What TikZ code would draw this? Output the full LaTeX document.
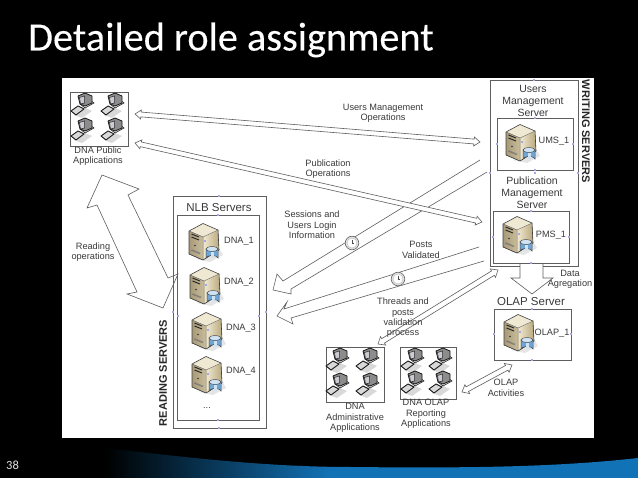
\documentclass[tikz,border=0pt]{standalone}
\usepackage{fontspec}
\setmainfont{Liberation Sans}
\newfontfamily\slidefont{Carlito}
\newfontfamily\titlefont[FakeBold=0.2]{Carlito}
\usetikzlibrary{calc,backgrounds}
\definecolor{swoosh}{HTML}{1272B6}
\definecolor{ink}{HTML}{3A3A3A}
\definecolor{boxline}{HTML}{5E5E5E}
\definecolor{handle}{HTML}{A8A8E6}
\definecolor{srvtop}{HTML}{EFE8D2}
\definecolor{srvlight}{HTML}{F1E9D0}
\definecolor{srvdark}{HTML}{B9A97F}
\definecolor{srvfront}{HTML}{C9BD9C}
\definecolor{srvfrontd}{HTML}{A89A78}
\definecolor{cylblue}{HTML}{6FA6D6}
\definecolor{cyltop}{HTML}{CFE3F3}
\tikzset{
  x=1pt,y=-1pt,
  lbl/.style={font=\fontsize{9.2}{10.4}\selectfont,text=ink,align=center,inner sep=0pt},
  head/.style={font=\fontsize{11.5}{12}\selectfont,text=ink,align=center,inner sep=0pt},
  mgr/.style={font=\fontsize{10.5}{12}\selectfont,text=ink,align=center,inner sep=0pt},
  vert/.style={font=\bfseries\fontsize{11}{12}\selectfont,text=black!85,inner sep=0pt},
  frame/.style={draw=boxline,line width=0.8pt},
  blockarrow/.style={draw=boxline,line width=0.6pt,fill=white,line join=miter},
  wire/.style={draw=boxline,line width=0.6pt},
  server/.pic={
    \fill[black!10] (-8,17) -- (6,20) -- (19,13) -- (15,6) -- cycle;
    \fill[left color=srvlight,right color=srvdark] (-1,-5) -- (14,-12) -- (15,8) -- (-1,18) -- cycle;
    \fill[srvtop] (-15,-11) -- (-1,-18.5) -- (14,-12) -- (-1,-5) -- cycle;
    \fill[left color=srvfrontd,right color=srvfront] (-15,-11) -- (-1,-5) -- (-1,18) -- (-15,12) -- cycle;
    \draw[black!75,line width=0.6pt,line join=round] (-15,-11) -- (-1,-18.5) -- (14,-12) -- (15,8) -- (-1,18) -- (-15,12) -- cycle;
    \draw[black!55,line width=0.4pt] (-15,-11) -- (-1,-5) -- (14,-12) (-1,-5) -- (-1,18);
    \draw[black!85,line width=1pt] (-12.5,-8) -- (-5,-5) (-12.5,-5) -- (-5,-2);
    \fill[black!80] (-9,3.5) circle (0.9);
    \draw[black!55,line width=1.6pt,dash pattern=on 0.5pt off 0.5pt] (-12.5,8) -- (-4,11.5);
    \fill[handle] (0,-1.5) rectangle (2,0.5);
    \fill[cylblue,draw=black!70,line width=0.5pt] (2,7) -- (2,16) arc[start angle=180,end angle=360,x radius=6,y radius=2.4] -- (14,7) -- cycle;
    \fill[cyltop,draw=black!70,line width=0.5pt] (8,7) ellipse (6 and 2.4);
    \fill[cyltop] (6.5,10.5) rectangle (9.5,16.5);
  },
  pcicon/.pic={
    \fill[black!15] (-9,10) -- (2,3) -- (9,6) -- (-1,13) -- cycle;
    \fill[black!15,draw=black!90,line width=0.9pt,line join=round] (-12,6) -- (-5,1) -- (1,4) -- (-7,10) -- cycle;
    \fill[black!10] (-3,-1) -- (7,-5) -- (11,-2) -- (2,3) -- cycle;
    \draw[black!85,line width=0.6pt] (-3,-1) -- (7,-5) -- (11,-2) -- (2,3) -- cycle;
    \fill[black!45,draw=black!90,line width=0.8pt,line join=round] (-5,-9) -- (2,-12) -- (9,-9) -- (9,-2) -- (2,1) -- (-3,-1) -- cycle;
    \fill[white!60!blue!30!black!25,draw=black!85,line width=0.5pt] (-3.5,-7.5) -- (1.5,-9) -- (1.5,-2) -- (-2.5,-1) -- cycle;
  },
  clockicon/.pic={
    \fill[black!12,draw=black!60,line width=0.6pt] (0,0) circle (6.8);
    \fill[white,draw=black!30,line width=0.3pt] (0,0) circle (5);
    \draw[black!70,line width=0.45pt] (0,-3) -- (0,0) -- (2.2,0);
  }
}
\newcommand{\twoway}[5]{%
  \coordinate (p1) at ($(#1)!#5!(#2)$);
  \coordinate (p2) at ($(#2)!#5!(#1)$);
  \draw[blockarrow] (#1) -- ($(p1)!#4!90:(#2)$) -- ($(p1)!#3!90:(#2)$) -- ($(p2)!#3!-90:(#1)$) -- ($(p2)!#4!-90:(#1)$) -- (#2) -- ($(p2)!#4!90:(#1)$) -- ($(p2)!#3!90:(#1)$) -- ($(p1)!#3!-90:(#2)$) -- ($(p1)!#4!-90:(#2)$) -- cycle;
}
\newcommand{\hmark}[2]{\fill[handle] (#1-1.3,#2-1.3) rectangle (#1+1.3,#2+1.3);}
\newcommand{\pcgrid}[6]{%
  \pic at (#1,#3) {pcicon}; \pic at (#2,#3) {pcicon};
  \pic at (#4,#6) {pcicon}; \pic at (#5,#6) {pcicon};
}
\begin{document}
\begin{tikzpicture}
\useasboundingbox (0,0) rectangle (638,478);
\fill[black] (0,0) rectangle (638,478);
% footer swoosh
\begin{scope}
  \clip (105,448) .. controls (190,458) and (270,467) .. (350,467) .. controls (450,468) and (550,468) .. (638,458) -- (638,478) -- (105,478) -- cycle;
  \shade[left color=black,right color=swoosh] (105,440) rectangle (330,478);
  \fill[swoosh] (330,440) rectangle (638,478);
\end{scope}
\node[font=\titlefont\fontsize{40.3}{44}\selectfont,text=white,anchor=base west,inner sep=0pt] (title) at (28,50.5) {Detailed role assignment};
\node[font=\slidefont\fontsize{12.5}{14}\selectfont,text=white!88!black,inner sep=0pt] (pageno) at (12.5,465) {38};
% white sheet
\fill[white] (61.5,78) rectangle (593.5,438);

% connectors under the boxes
\coordinate (umsL) at (135,114); \coordinate (umsR) at (480,142);
\coordinate (pubL) at (135,143); \coordinate (pubR) at (482,222);
\coordinate (thrA) at (378,344); \coordinate (thrB) at (498,270);
\coordinate (olaA) at (462,392); \coordinate (olaB) at (512,365);
\coordinate (sesA) at (480,160); \coordinate (sesB) at (283,281);
\coordinate (sesC) at (487,172); \coordinate (sesD) at (291,289);
\coordinate (posA) at (479,247); \coordinate (posB) at (284,309);
\coordinate (posC) at (484,261); \coordinate (posD) at (291,318);
% sessions arrow
\draw[wire,line join=miter] (sesA) -- (sesB) -- (277,274) -- (273,290) -- (291,294) -- (sesD) -- (sesC);
% posts arrow
\draw[wire,line join=miter] (posA) -- (posB) -- (287,302) -- (277,316) -- (293,324) -- (posD) -- (posC);
\twoway{pubL}{pubR}{2.4pt}{4.5pt}{6pt}
\twoway{umsL}{umsR}{2.4pt}{4.5pt}{6pt}
\twoway{thrA}{thrB}{2.6pt}{5pt}{6pt}
\twoway{olaA}{olaB}{2.6pt}{5pt}{6pt}
% reading operations
\draw[blockarrow] (102,175) -- (87,208) -- (97,205) -- (137,292) -- (127,294) -- (163,308) -- (178,274) -- (168,278) -- (128,195) -- (139,189) -- cycle;

% clocks
\pic at (352,243) {clockicon};
\pic at (398,279) {clockicon};

% boxes
\node[frame,minimum width=58pt,minimum height=54pt,inner sep=0pt] (publicbox) at (99,119) {};
\node[frame,minimum width=93pt,minimum height=232pt,inner sep=0pt] (nlbouter) at (219.5,312) {};
\node[frame,minimum width=82pt,minimum height=205pt,inner sep=0pt] (nlbinner) at (218,317.5) {};
\node[frame,minimum width=88pt,minimum height=186pt,inner sep=0pt] (writing) at (534,173) {};
\node[frame,minimum width=76pt,minimum height=52pt,inner sep=0pt] (umsbox) at (535,144) {};
\node[frame,minimum width=76pt,minimum height=52pt,inner sep=0pt] (pmsbox) at (531,237) {};
\node[frame,minimum width=77pt,minimum height=51pt,inner sep=0pt] (olapbox) at (532.5,334.5) {};
\node[frame,minimum width=58pt,minimum height=55pt,inner sep=0pt] (adminbox) at (355,374.5) {};
\node[frame,minimum width=56pt,minimum height=52pt,inner sep=0pt] (reportbox) at (428,373) {};

% data aggregation arrow
\fill[white] (520,264) rectangle (543,279);
\coordinate (aggA) at (520,263.5); \coordinate (aggB) at (543,263.5);
\draw[wire,line join=miter] (aggA) -- (520,278) -- (511,278) -- (532,294) -- (553,278) -- (543,278) -- (aggB);

% server icons
\pic at (204,242) {server};
\pic at (205,286) {server};
\pic at (207,331) {server};
\pic at (207,375) {server};
\pic at (521,143) {server};
\pic at (518,235) {server};
\pic at (519,333) {server};

% computer icons
\pcgrid{83}{113}{105}{83}{113}{130}
\pcgrid{338}{368}{360}{338}{368}{385}
\pcgrid{413}{441}{360}{413}{441}{383}

% selection handles
\hmark{219}{196}\hmark{218}{215}\hmark{173}{312}\hmark{178}{316}\hmark{259}{316}\hmark{266}{312}\hmark{218}{420}\hmark{219}{428}
\hmark{534}{80}\hmark{535}{118}\hmark{497}{144}\hmark{573}{144}\hmark{535}{170}\hmark{490}{173}\hmark{578}{173}\hmark{535}{173}
\hmark{531}{211}\hmark{493}{237}\hmark{569}{237}\hmark{531}{263}
\hmark{532}{309}\hmark{494}{334}\hmark{571}{334}\hmark{532}{360}

% labels
\node[lbl] (tpublic) at (98,156) {DNA Public\\Applications};
\node[lbl] (treading) at (93,252) {Reading\\operations};
\node[lbl] (tusersop) at (383,113) {Users Management\\Operations};
\node[lbl] (tpubop) at (328,169) {Publication\\Operations};
\node[lbl] (tsessions) at (312,225) {Sessions and\\Users Login\\Information};
\node[lbl] (tposts) at (421,250) {Posts\\Validated};
\node[lbl] (tthreads) at (403,318) {Threads and\\posts\\validation\\process};
\node[lbl] (tdata) at (570,279.5) {Data\\Agregation};
\node[lbl] (tolapact) at (506,388) {OLAP\\Activities};
\node[lbl] (tadmin) at (355,418) {DNA\\Administrative\\Applications};
\node[lbl] (treport) at (426,414) {DNA OLAP\\Reporting\\Applications};
\node[head] (tnlb) at (219,208) {NLB Servers};
\node[mgr] (tusersrv) at (533,101) {Users\\Management\\Server};
\node[mgr] (tpubsrv) at (532,193) {Publication\\Management\\Server};
\node[head] (tolapsrv) at (531,302) {OLAP Server};
\node[lbl] (tdna1) at (239,241) {DNA\_1};
\node[lbl] (tdna2) at (239,282) {DNA\_2};
\node[lbl] (tdna3) at (241,328) {DNA\_3};
\node[lbl] (tdna4) at (241,371) {DNA\_4};
\node[lbl] (tdots) at (207,408) {...};
\node[lbl] (tums) at (554,141) {UMS\_1};
\node[lbl] (tpms) at (551,235) {PMS\_1};
\node[lbl] (tolap) at (552,333) {OLAP\_1};
\node[vert,rotate=-90] (twriting) at (586,131.5) {WRITING SERVERS};
\node[vert,rotate=90] (treadingsrv) at (163,373) {READING SERVERS};
\end{tikzpicture}
\end{document}
